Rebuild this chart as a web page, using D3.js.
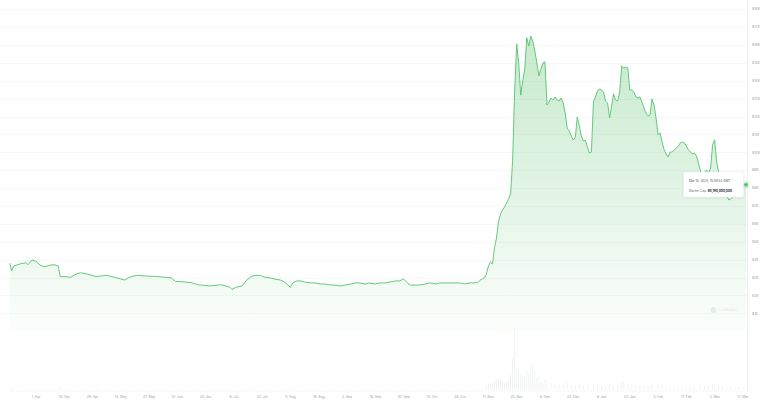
<!DOCTYPE html>
<html><head><meta charset="utf-8">
<script src="https://cdn.jsdelivr.net/npm/d3@7"></script>
<style>html,body{margin:0;padding:0;background:#fff;}svg{display:block;font-family:Inter,"Noto Sans",sans-serif;}</style>
</head><body><svg id="chart" width="768" height="410"></svg>
<script>
// Market cap (billions USD) by date
const dates = ["2024-03-19","2024-03-20","2024-03-21","2024-03-24","2024-03-27","2024-03-28","2024-03-30","2024-04-01","2024-04-03","2024-04-05","2024-04-08","2024-04-10","2024-04-12","2024-04-13","2024-04-16","2024-04-18","2024-04-21","2024-04-23","2024-04-26","2024-05-01","2024-05-06","2024-05-11","2024-05-15","2024-05-17","2024-05-21","2024-05-25","2024-06-01","2024-06-07","2024-06-09","2024-06-14","2024-06-17","2024-06-20","2024-06-26","2024-07-02","2024-07-04","2024-07-06","2024-07-07","2024-07-09","2024-07-12","2024-07-14","2024-07-17","2024-07-21","2024-07-23","2024-07-26","2024-07-28","2024-07-31","2024-08-02","2024-08-05","2024-08-06","2024-08-08","2024-08-10","2024-08-12","2024-08-15","2024-08-17","2024-08-20","2024-08-22","2024-08-25","2024-08-27","2024-08-30","2024-09-01","2024-09-04","2024-09-06","2024-09-08","2024-09-11","2024-09-13","2024-09-16","2024-09-18","2024-09-21","2024-09-23","2024-09-26","2024-09-28","2024-09-30","2024-10-02","2024-10-03","2024-10-06","2024-10-08","2024-10-11","2024-10-13","2024-10-16","2024-10-18","2024-10-21","2024-10-23","2024-10-26","2024-10-28","2024-10-30","2024-11-02","2024-11-04","2024-11-06","2024-11-07","2024-11-09","2024-11-10","2024-11-11","2024-11-12","2024-11-13","2024-11-14","2024-11-15","2024-11-16","2024-11-17","2024-11-18","2024-11-19","2024-11-20","2024-11-21","2024-11-22","2024-11-23","2024-11-24","2024-11-25","2024-11-26","2024-11-27","2024-11-28","2024-11-29","2024-11-30","2024-12-01","2024-12-02","2024-12-03","2024-12-04","2024-12-05","2024-12-06","2024-12-07","2024-12-08","2024-12-09","2024-12-10","2024-12-11","2024-12-12","2024-12-13","2024-12-14","2024-12-15","2024-12-16","2024-12-17","2024-12-18","2024-12-19","2024-12-20","2024-12-21","2024-12-22","2024-12-23","2024-12-24","2024-12-25","2024-12-26","2024-12-27","2024-12-28","2024-12-29","2024-12-30","2024-12-31","2025-01-01","2025-01-02","2025-01-03","2025-01-04","2025-01-05","2025-01-06","2025-01-07","2025-01-08","2025-01-09","2025-01-10","2025-01-11","2025-01-12","2025-01-13","2025-01-14","2025-01-15","2025-01-16","2025-01-17","2025-01-18","2025-01-19","2025-01-20","2025-01-21","2025-01-22","2025-01-23","2025-01-24","2025-01-25","2025-01-26","2025-01-27","2025-01-28","2025-01-29","2025-01-30","2025-01-31","2025-02-01","2025-02-02","2025-02-03","2025-02-04","2025-02-05","2025-02-06","2025-02-07","2025-02-08","2025-02-09","2025-02-10","2025-02-11","2025-02-12","2025-02-13","2025-02-14","2025-02-15","2025-02-16","2025-02-17","2025-02-18","2025-02-19","2025-02-20","2025-02-21","2025-02-22","2025-02-23","2025-02-24","2025-02-25","2025-02-26","2025-02-27","2025-02-28","2025-03-01","2025-03-02","2025-03-03","2025-03-04","2025-03-05","2025-03-06","2025-03-07","2025-03-08","2025-03-09","2025-03-10","2025-03-11","2025-03-12","2025-03-13","2025-03-14","2025-03-15","2025-03-16","2025-03-17","2025-03-18T15:09:53Z"];
const marketCap = [3.80,3.38,3.65,3.76,3.83,3.72,3.98,3.91,3.70,3.61,3.69,3.72,3.65,3.05,3.05,3.01,3.20,3.27,3.20,3.05,3.13,2.98,2.86,3.01,3.13,3.09,3.05,2.98,2.79,2.75,2.71,2.60,2.53,2.60,2.53,2.46,2.34,2.46,2.53,2.82,3.09,3.13,3.03,2.98,2.92,2.86,2.75,2.45,2.70,2.81,2.81,2.75,2.70,2.70,2.64,2.64,2.58,2.58,2.53,2.58,2.64,2.70,2.70,2.64,2.70,2.64,2.70,2.70,2.75,2.81,2.81,2.92,2.70,2.58,2.58,2.58,2.64,2.70,2.64,2.70,2.70,2.70,2.70,2.70,2.64,2.70,2.70,2.75,2.86,2.98,3.20,3.65,3.87,3.76,4.66,5.21,6.11,6.56,6.78,6.95,7.17,7.40,7.71,9.57,13.49,16.06,15.00,13.20,14.00,14.66,16.40,15.95,16.50,16.20,15.67,15.00,14.27,14.66,15.00,15.06,12.65,12.82,13.04,12.93,13.10,12.93,12.87,13.04,12.76,12.20,11.36,11.20,10.92,10.69,10.81,11.98,11.48,10.92,10.64,10.69,10.30,9.96,10.02,12.82,13.10,13.43,13.55,13.49,13.38,12.87,12.76,11.92,12.60,13.27,12.93,12.87,13.38,14.83,14.72,14.77,14.72,13.49,13.49,13.38,13.10,13.04,13.10,12.82,12.48,12.20,12.04,12.09,12.98,12.65,11.92,10.97,11.09,10.58,10.14,9.91,9.74,10.02,10.02,10.14,10.25,10.36,10.53,10.58,10.53,10.36,10.14,10.02,9.91,9.96,9.80,9.40,8.96,8.74,8.90,9.02,8.85,9.13,10.42,10.70,9.46,8.90,8.57,8.23,7.90,7.62,7.34,7.40,7.51,7.62,7.73,7.90,8.06,8.23,8.19];

// Trading volume (billions USD)
const volDates = ["2024-03-20","2024-03-27","2024-04-03","2024-04-10","2024-04-13","2024-04-17","2024-04-24","2024-05-01","2024-05-08","2024-05-15","2024-05-22","2024-05-29","2024-06-05","2024-06-12","2024-06-19","2024-06-26","2024-07-03","2024-07-07","2024-07-14","2024-07-17","2024-07-24","2024-07-31","2024-08-05","2024-08-12","2024-08-19","2024-08-26","2024-09-02","2024-09-09","2024-09-16","2024-09-23","2024-09-30","2024-10-07","2024-10-14","2024-10-21","2024-10-28","2024-11-04","2024-11-08","2024-11-10","2024-11-11","2024-11-12","2024-11-13","2024-11-14","2024-11-15","2024-11-16","2024-11-17","2024-11-18","2024-11-19","2024-11-20","2024-11-21","2024-11-22","2024-11-23","2024-11-24","2024-11-25","2024-11-26","2024-11-27","2024-11-28","2024-11-29","2024-11-30","2024-12-01","2024-12-02","2024-12-03","2024-12-04","2024-12-05","2024-12-06","2024-12-07","2024-12-08","2024-12-09","2024-12-10","2024-12-12","2024-12-14","2024-12-16","2024-12-18","2024-12-20","2024-12-22","2024-12-24","2024-12-26","2024-12-28","2024-12-30","2025-01-02","2025-01-04","2025-01-06","2025-01-08","2025-01-10","2025-01-12","2025-01-14","2025-01-16","2025-01-17","2025-01-19","2025-01-21","2025-01-23","2025-01-25","2025-01-27","2025-01-29","2025-01-31","2025-02-03","2025-02-05","2025-02-07","2025-02-09","2025-02-11","2025-02-13","2025-02-15","2025-02-17","2025-02-19","2025-02-21","2025-02-24","2025-02-26","2025-02-28","2025-03-02","2025-03-03","2025-03-05","2025-03-07","2025-03-09","2025-03-11","2025-03-13","2025-03-15","2025-03-17"];
const volumes = [0.15,0.12,0.13,0.11,0.22,0.12,0.1,0.1,0.09,0.08,0.1,0.08,0.08,0.08,0.07,0.07,0.08,0.1,0.12,0.14,0.09,0.08,0.18,0.09,0.07,0.07,0.07,0.07,0.07,0.08,0.09,0.08,0.07,0.07,0.07,0.08,0.12,0.35,0.5,0.45,0.4,0.7,0.8,0.9,0.85,0.6,0.5,0.6,0.7,1.2,2.5,4.85,1.7,1.6,1.2,1.0,1.1,1.5,1.3,1.8,2.0,1.4,0.95,1.1,0.6,0.5,0.8,0.7,0.5,0.45,0.47,0.45,0.6,0.4,0.35,0.45,0.3,0.35,0.5,0.35,0.3,0.35,0.4,0.3,0.3,0.6,0.7,0.5,0.4,0.35,0.3,0.35,0.3,0.4,0.5,0.35,0.3,0.25,0.3,0.25,0.25,0.3,0.25,0.22,0.35,0.3,0.3,0.45,0.45,0.3,0.25,0.22,0.3,0.22,0.2,0.2];

const yTickValues = [1,2,3,4,5,6,7,8,9,10,11,12,13,14,15,16,17,18];
const xTickDates = ["2024-04-01","2024-04-15","2024-04-29","2024-05-13","2024-05-27","2024-06-10","2024-06-24","2024-07-08","2024-07-22","2024-08-05","2024-08-19","2024-09-02","2024-09-16","2024-09-30","2024-10-14","2024-10-28","2024-11-11","2024-11-25","2024-12-09","2024-12-23","2025-01-06","2025-01-20","2025-02-03","2025-02-17","2025-03-03","2025-03-17"];

const tooltipDateText = "Mar 18, 2025, 15:09:53 GMT";

const parse = s => new Date(s.length > 10 ? s : s + "T00:00:00Z");
const data = dates.map((d, i) => ({date: parse(d), v: marketCap[i]}));
const vdata = volDates.map((d, i) => ({date: parse(d), v: volumes[i]}));
const ticks = xTickDates.map(parse);

const svg = d3.select("#chart");
const x = d3.scaleUtc().domain([ticks[0], ticks[ticks.length - 1]]).range([36, 742.9]);
const y = d3.scaleLinear().domain([0, 18]).range([331.2, 9.3]);
const yv = d3.scaleLinear().domain([0, 5]).range([389.5, 325.5]);
const rightEdge = 747.5;

// gradient
const defs = svg.append("defs");
const grad = defs.append("linearGradient").attr("id", "g").attr("gradientUnits", "userSpaceOnUse")
  .attr("x1", 0).attr("x2", 0).attr("y1", y(18)).attr("y2", y(0));
grad.append("stop").attr("offset", 0).attr("stop-color", "#5cc26f").attr("stop-opacity", 0.38);
grad.append("stop").attr("offset", 1).attr("stop-color", "#5cc26f").attr("stop-opacity", 0.02);
const sh = defs.append("filter").attr("id", "sh").attr("x", "-20%").attr("y", "-40%").attr("width", "140%").attr("height", "180%");
sh.append("feDropShadow").attr("dx", 0).attr("dy", 0.5).attr("stdDeviation", 1).attr("flood-color", "#000").attr("flood-opacity", 0.12);

// gridlines
svg.append("g").selectAll("line").data(yTickValues).join("line")
  .attr("x1", 0).attr("x2", rightEdge)
  .attr("y1", d => Math.round(y(d)) + 0.5).attr("y2", d => Math.round(y(d)) + 0.5)
  .attr("stroke", "#f3f3f3").attr("stroke-width", 0.6);

// volume bars
svg.append("g").selectAll("rect").data(vdata).join("rect")
  .attr("x", d => x(d.date) - 0.4).attr("width", 0.8)
  .attr("y", d => yv(d.v)).attr("height", d => yv(0) - yv(d.v))
  .attr("fill", "#eef0f2");

// area + line
const area = d3.area().x(d => x(d.date)).y0(y(0)).y1(d => y(d.v));
const line = d3.line().x(d => x(d.date)).y(d => y(d.v));
svg.append("path").datum(data).attr("d", area).attr("fill", "url(#g)");
svg.append("path").datum(data).attr("d", line).attr("fill", "none")
  .attr("stroke", "#52c46c").attr("stroke-width", 0.9).attr("stroke-linejoin", "round");

// axes lines
svg.append("line").attr("x1", rightEdge).attr("x2", rightEdge).attr("y1", 0).attr("y2", 391)
  .attr("stroke", "#e8ecef").attr("stroke-width", 0.7);
svg.append("line").attr("x1", 10).attr("x2", rightEdge).attr("y1", 391).attr("y2", 391)
  .attr("stroke", "#f0f1f3").attr("stroke-width", 0.6);

// y labels
svg.append("g").selectAll("text").data(yTickValues).join("text")
  .attr("x", 752).attr("y", d => y(d)).attr("dy", "0.35em")
  .attr("font-size", 3.4).attr("fill", "#9a9fa6")
  .text(d => "$" + d + "B");

// x labels
const fmt = d3.utcFormat("%-d. %b");
svg.append("g").selectAll("text").data(ticks).join("text")
  .attr("x", d => x(d)).attr("y", 397).attr("dy", "0.35em").attr("text-anchor", "middle")
  .attr("font-size", 3.4).attr("fill", "#9a9fa6")
  .text(d => fmt(d));

// watermark
const wm = svg.append("g").attr("opacity", 0.55);
wm.append("circle").attr("cx", 713.5).attr("cy", 310).attr("r", 3).attr("fill", "#cfe3d4");
wm.append("text").attr("x", 718).attr("y", 310).attr("dy", "0.35em").attr("font-size", 3.6)
  .attr("fill", "#b9c9bd").text("CoinGecko");

// marker
const last = data[data.length - 1];
svg.append("circle").attr("cx", x(last.date)).attr("cy", y(last.v)).attr("r", 3.2).attr("fill", "#52c46c").attr("opacity", 0.25);
svg.append("circle").attr("cx", x(last.date)).attr("cy", y(last.v)).attr("r", 1.7).attr("fill", "#52c46c");

// tooltip
const tt = svg.append("g");
tt.append("rect").attr("x", 683.5).attr("y", 172).attr("width", 60).attr("height", 25).attr("rx", 1.5)
  .attr("fill", "#fff").attr("stroke", "#eceef0").attr("stroke-width", 0.4).attr("filter", "url(#sh)");
tt.append("text").attr("x", 689).attr("y", 180.5).attr("dy", "0.35em").attr("font-size", 3.1).attr("fill", "#4b5563")
  .text(tooltipDateText);
const t2 = tt.append("text").attr("x", 689).attr("y", 190.5).attr("dy", "0.35em").attr("font-size", 3.1);
t2.append("tspan").attr("fill", "#6b7280").text("Market Cap: ");
t2.append("tspan").attr("fill", "#1f2937").attr("font-weight", "bold").text("$" + d3.format(",")(Math.round(last.v * 1e9)));
</script></body></html>
